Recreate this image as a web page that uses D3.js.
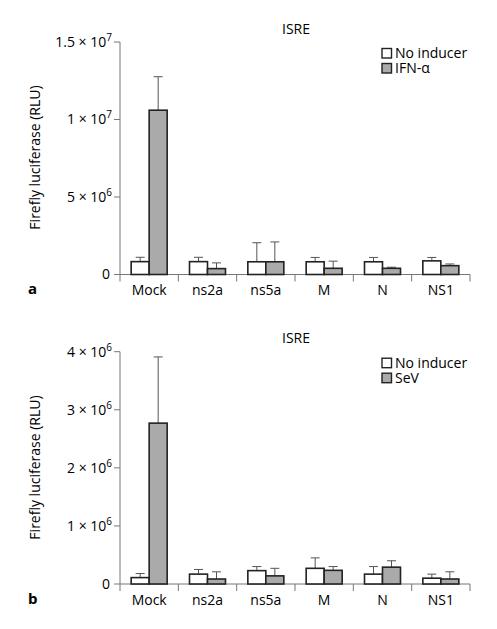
<!DOCTYPE html>
<html>
<head>
<meta charset="utf-8">
<script src="https://cdn.jsdelivr.net/npm/d3@7"></script>
<style>
  body { margin: 0; background: #fff; }
  svg { font-family: "Open Sans", sans-serif; }
  .axis-line { stroke: #777; stroke-width: 1; }
  .bar { stroke: #222; stroke-width: 1.6; }
  .err { stroke: #555; stroke-width: 1; }
</style>
</head>
<body>
<div id="chart"></div>
<script>
// data
var categories = ['Mock', 'ns2a', 'ns5a', 'M', 'N', 'NS1'];

var aNoInducer = [0.83e6, 0.83e6, 0.82e6, 0.82e6, 0.82e6, 0.88e6];
var aNoInducerErr = [1.11e6, 1.11e6, 2.05e6, 1.1e6, 1.1e6, 1.1e6];
var aIFN = [10.6e6, 0.38e6, 0.82e6, 0.4e6, 0.4e6, 0.57e6];
var aIFNErr = [12.76e6, 0.75e6, 2.1e6, 0.86e6, 0.47e6, 0.68e6];
var aTicks = [0, 5e6, 1e7, 1.5e7];

var bNoInducer = [0.11e6, 0.17e6, 0.23e6, 0.27e6, 0.17e6, 0.10e6];
var bNoInducerErr = [0.18e6, 0.25e6, 0.30e6, 0.45e6, 0.30e6, 0.17e6];
var bSeV = [2.77e6, 0.086e6, 0.14e6, 0.235e6, 0.29e6, 0.086e6];
var bSeVErr = [3.91e6, 0.21e6, 0.27e6, 0.30e6, 0.40e6, 0.21e6];
var bTicks = [0, 1e6, 2e6, 3e6, 4e6];

var svg = d3.select('#chart')
    .append('svg')
    .attr('width', 497)
    .attr('height', 629);

var x = d3.scaleBand().domain(categories).range([120, 470]);

function tickLabel(sel, v){ // "1.5 × 10^7" style
    if (v === 0) { sel.text('0'); return; }
    var e = Math.floor(Math.log10(v));
    var m = +(v / Math.pow(10, e)).toFixed(2);
    sel.text(m + ' \u00d7 10');
    sel.append('tspan').attr('dy', -6).attr('font-size', 10).text(e);
}

function panel(cfg){
    var g = svg.append('g');
    var y = d3.scaleLinear().domain([0, cfg.max]).range([cfg.bottom, cfg.top]);
    var series = [
        {name: 'No inducer', fill: '#fff', vals: cfg.white, errs: cfg.whiteErr},
        {name: cfg.induced, fill: '#aaa', vals: cfg.gray, errs: cfg.grayErr}
    ];
    var bw = 18;
    var x1 = d3.scaleBand().domain([0, 1])
        .range([x.bandwidth() / 2 - bw, x.bandwidth() / 2 + bw]);

    // y axis
    g.append('line').classed('axis-line', true)
        .attr('x1', x.range()[0]).attr('x2', x.range()[0])
        .attr('y1', y(cfg.max)).attr('y2', cfg.bottom + 7);
    var yt = g.selectAll('.ytick').data(cfg.ticks).enter().append('g')
        .attr('transform', d => 'translate(' + x.range()[0] + ',' + y(d) + ')');
    yt.append('line').classed('axis-line', true).attr('x1', -6).attr('x2', 0);
    yt.append('text')
        .attr('x', d => d === 0 ? -10 : -8)
        .attr('dy', '0.35em')
        .attr('text-anchor', 'end')
        .attr('font-size', 14)
        .attr('fill', '#000')
        .each(function(d){ tickLabel(d3.select(this), d); });

    // x axis
    g.append('line').classed('axis-line', true)
        .attr('x1', x.range()[0]).attr('x2', x.range()[1])
        .attr('y1', cfg.bottom).attr('y2', cfg.bottom);
    g.selectAll('.xtick').data(categories.slice(1).concat(['end'])).enter().append('line')
        .classed('axis-line', true)
        .attr('x1', d => d === 'end' ? x.range()[1] : x(d))
        .attr('x2', d => d === 'end' ? x.range()[1] : x(d))
        .attr('y1', cfg.bottom).attr('y2', cfg.bottom + 7);
    g.selectAll('.xlab').data(categories).enter().append('text')
        .attr('x', d => x(d) + x.bandwidth() / 2)
        .attr('y', cfg.bottom + 20.5)
        .attr('text-anchor', 'middle')
        .attr('font-size', 14)
        .attr('fill', '#000')
        .text(d => d);

    // bars + error bars
    series.forEach(function(s, si){
        var grp = g.append('g');
        var rows = categories.map((c, i) => ({c: c, v: s.vals[i], e: s.errs[i]}));
        grp.selectAll('line.err').data(rows).enter().append('line').classed('err', true)
            .attr('x1', d => x(d.c) + x1(si) + x1.bandwidth() / 2)
            .attr('x2', d => x(d.c) + x1(si) + x1.bandwidth() / 2)
            .attr('y1', d => y(d.v)).attr('y2', d => y(d.e));
        grp.selectAll('line.cap').data(rows).enter().append('line').classed('err', true)
            .attr('x1', d => x(d.c) + x1(si) + x1.bandwidth() / 2 - 4.5)
            .attr('x2', d => x(d.c) + x1(si) + x1.bandwidth() / 2 + 4.5)
            .attr('y1', d => y(d.e)).attr('y2', d => y(d.e));
        grp.selectAll('rect').data(rows).enter().append('rect').classed('bar', true)
            .attr('x', d => x(d.c) + x1(si))
            .attr('width', x1.bandwidth())
            .attr('y', d => y(d.v))
            .attr('height', d => y(0) - y(d.v))
            .attr('fill', s.fill);
    });

    // title, legend, labels
    g.append('text')
        .attr('x', (x.range()[0] + x.range()[1]) / 2 + 1)
        .attr('y', cfg.top - 8.5)
        .attr('text-anchor', 'middle')
        .attr('font-size', 14)
        .attr('fill', '#000')
        .text('ISRE');

    var leg = g.selectAll('.leg').data(series).enter().append('g')
        .attr('transform', (d, i) => 'translate(382,' + (cfg.top + 6.5 + i * 15) + ')');
    leg.append('rect').attr('width', 9.5).attr('height', 9.5)
        .attr('fill', d => d.fill).attr('stroke', '#222').attr('stroke-width', 1.4);
    leg.append('text').attr('x', 13).attr('y', 9.5)
        .attr('font-size', 14).attr('fill', '#000')
        .text(d => d.name);

    g.append('text')
        .attr('transform', 'translate(40,' + cfg.labelY + ') rotate(-90)')
        .attr('text-anchor', 'middle')
        .attr('font-size', 14)
        .attr('fill', '#000')
        .text('Firefly luciferase (RLU)');

    g.append('text')
        .attr('x', 28).attr('y', cfg.bottom + 19.5)
        .attr('font-size', 15).attr('font-weight', 'bold')
        .attr('fill', '#000')
        .text(cfg.letter);
}

panel({max: 1.5e7, top: 42, bottom: 274.5, ticks: aTicks, induced: 'IFN-\u03b1',
    white: aNoInducer, whiteErr: aNoInducerErr, gray: aIFN, grayErr: aIFNErr,
    labelY: 157.5, letter: 'a'});
panel({max: 4e6, top: 351.7, bottom: 584, ticks: bTicks, induced: 'SeV',
    white: bNoInducer, whiteErr: bNoInducerErr, gray: bSeV, grayErr: bSeVErr,
    labelY: 467.5, letter: 'b'});
</script>
</body>
</html>
